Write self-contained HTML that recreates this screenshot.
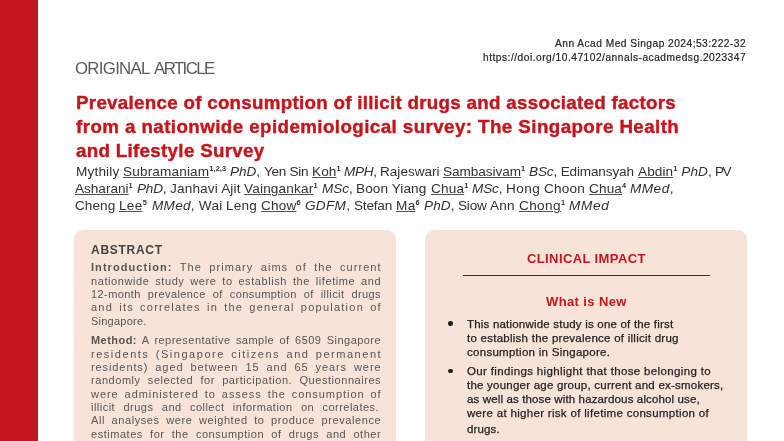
<!DOCTYPE html>
<html lang="en"><head><meta charset="utf-8"><title>Prevalence of consumption of illicit drugs</title>
<style>
html,body{margin:0;padding:0;background:#fff;}
body{width:784px;height:441px;position:relative;overflow:hidden;font-family:"Liberation Sans",sans-serif;}
.bar{position:absolute;left:0;top:0;width:38px;height:441px;background:#c4161c;}
.box{position:absolute;background:#f8e3d9;border-radius:9.5px 9.5px 0 0;}
.l{will-change:transform;position:absolute;white-space:nowrap;line-height:20px;height:20px;margin:0;}
.l sup{font-size:54%;line-height:0;vertical-align:baseline;position:relative;top:-0.7em;font-weight:bold;}
.l u{text-decoration-thickness:0.7px;text-underline-offset:0.9px;text-decoration-color:#555;}
.rule{position:absolute;left:462.7px;top:274.8px;width:247.7px;height:1px;background:#333;}
.dot{position:absolute;width:4.4px;height:4.4px;border-radius:50%;background:#222;}
</style></head><body>
<div class="bar"></div>
<div class="box" style="left:74.2px;top:230px;width:322px;height:215px"></div>
<div class="box" style="left:425px;top:230px;width:321.6px;height:215px"></div>
<div class="rule"></div>
<div class="dot" style="left:448.2px;top:321.3px"></div>
<div class="dot" style="left:448.2px;top:368.6px"></div>
<div class="l" id="h1" style="left:555.0px;top:34px;font-size:10.2px;color:#262626;-webkit-text-stroke:0.2px #262626;letter-spacing:0.472px;">Ann Acad Med Singap 2024;53:222-32</div>
<div class="l" id="h2" style="left:483.0px;top:48px;font-size:10.2px;color:#262626;-webkit-text-stroke:0.2px #262626;letter-spacing:0.503px;">https://doi.org/10.47102/annals-acadmedsg.2023347</div>
<div class="l" id="oa" style="left:75.0px;top:59px;font-size:16.8px;color:#5a5a5a;letter-spacing:-0.686px;">ORIGINAL</div>
<div class="l" id="oa2" style="left:154.3px;top:59px;font-size:16.8px;color:#5a5a5a;letter-spacing:-1.546px;">ARTICLE</div>
<div class="l" id="t1" style="left:75.8px;top:93px;font-size:18.2px;color:#c4161c;font-weight:bold;-webkit-text-stroke:0.4px #c4161c;transform:scaleX(1.03);transform-origin:0 0;letter-spacing:0.287px;">Prevalence of consumption of illicit drugs and associated factors</div>
<div class="l" id="t2" style="left:75.8px;top:117px;font-size:18.2px;color:#c4161c;font-weight:bold;-webkit-text-stroke:0.4px #c4161c;transform:scaleX(1.03);transform-origin:0 0;letter-spacing:0.416px;">from a nationwide epidemiological survey: The Singapore Health</div>
<div class="l" id="t3" style="left:75.8px;top:141px;font-size:18.2px;color:#c4161c;font-weight:bold;-webkit-text-stroke:0.4px #c4161c;transform:scaleX(1.03);transform-origin:0 0;letter-spacing:0.306px;">and Lifestyle Survey</div>
<div class="l" id="a1_0" style="left:75.6px;top:162px;font-size:13.6px;color:#333;white-space:pre;letter-spacing:0.165px;">Mythily </div>
<div class="l" id="a1_1" style="left:123.0px;top:162px;font-size:13.6px;color:#333;white-space:pre;letter-spacing:0.146px;"><u>Subramaniam</u><sup>1,2,3</sup> </div>
<div class="l" id="a1_2" style="left:230.2px;top:162px;font-size:13.6px;color:#333;white-space:pre;letter-spacing:-0.083px;"><i>PhD</i>, </div>
<div class="l" id="a1_3" style="left:263.8px;top:162px;font-size:13.6px;color:#333;white-space:pre;letter-spacing:-0.305px;">Yen Sin </div>
<div class="l" id="a1_4" style="left:311.5px;top:162px;font-size:13.6px;color:#333;white-space:pre;letter-spacing:0.091px;"><u>Koh</u><sup>1</sup> </div>
<div class="l" id="a1_5" style="left:344.0px;top:162px;font-size:13.6px;color:#333;white-space:pre;letter-spacing:-0.356px;"><i>MPH</i>, </div>
<div class="l" id="a1_6" style="left:380.0px;top:162px;font-size:13.6px;color:#333;white-space:pre;letter-spacing:-0.007px;">Rajeswari </div>
<div class="l" id="a1_7" style="left:443.4px;top:162px;font-size:13.6px;color:#333;white-space:pre;letter-spacing:-0.053px;"><u>Sambasivam</u><sup>1</sup> </div>
<div class="l" id="a1_8" style="left:529.2px;top:162px;font-size:13.6px;color:#333;white-space:pre;letter-spacing:-0.167px;"><i>BSc</i>, Edimansyah </div>
<div class="l" id="a1_9" style="left:637.6px;top:162px;font-size:13.6px;color:#333;white-space:pre;letter-spacing:0.095px;"><u>Abdin</u><sup>1</sup> <i>PhD</i>, </div>
<div class="l" id="a1_10" style="left:715.4px;top:162px;font-size:13.6px;color:#333;white-space:pre;letter-spacing:-1.541px;">PV</div>
<div class="l" id="a2_0" style="left:75.3px;top:179px;font-size:13.6px;color:#333;white-space:pre;letter-spacing:-0.022px;"><u>Asharani</u><sup>1</sup> </div>
<div class="l" id="a2_1" style="left:136.6px;top:179px;font-size:13.6px;color:#333;white-space:pre;letter-spacing:-0.203px;"><i>PhD</i>, </div>
<div class="l" id="a2_2" style="left:169.6px;top:179px;font-size:13.6px;color:#333;white-space:pre;letter-spacing:0.158px;">Janhavi Ajit </div>
<div class="l" id="a2_3" style="left:244.2px;top:179px;font-size:13.6px;color:#333;white-space:pre;letter-spacing:0.165px;"><u>Vaingankar</u><sup>1</sup> </div>
<div class="l" id="a2_4" style="left:321.8px;top:179px;font-size:13.6px;color:#333;white-space:pre;letter-spacing:-0.050px;"><i>MSc</i>, </div>
<div class="l" id="a2_5" style="left:356.3px;top:179px;font-size:13.6px;color:#333;white-space:pre;letter-spacing:0.079px;">Boon Yiang </div>
<div class="l" id="a2_6" style="left:430.5px;top:179px;font-size:13.6px;color:#333;white-space:pre;letter-spacing:0.157px;"><u>Chua</u><sup>1</sup> </div>
<div class="l" id="a2_7" style="left:471.8px;top:179px;font-size:13.6px;color:#333;white-space:pre;letter-spacing:-0.190px;"><i>MSc</i>, </div>
<div class="l" id="a2_8" style="left:505.6px;top:179px;font-size:13.6px;color:#333;white-space:pre;letter-spacing:0.444px;">Hong </div>
<div class="l" id="a2_9" style="left:544.1px;top:179px;font-size:13.6px;color:#333;white-space:pre;letter-spacing:0.176px;">Choon </div>
<div class="l" id="a2_10" style="left:589.0px;top:179px;font-size:13.6px;color:#333;white-space:pre;letter-spacing:0.140px;"><u>Chua</u><sup>4</sup> </div>
<div class="l" id="a2_11" style="left:630.2px;top:179px;font-size:13.6px;color:#333;white-space:pre;letter-spacing:0.484px;"><i>MMed</i>,</div>
<div class="l" id="a3_0" style="left:75.3px;top:196px;font-size:13.6px;color:#333;white-space:pre;letter-spacing:0.043px;">Cheng </div>
<div class="l" id="a3_1" style="left:119.4px;top:196px;font-size:13.6px;color:#333;white-space:pre;letter-spacing:0.311px;"><u>Lee</u><sup>5</sup> </div>
<div class="l" id="a3_2" style="left:151.5px;top:196px;font-size:13.6px;color:#333;white-space:pre;letter-spacing:0.257px;"><i>MMed</i>, Wai </div>
<div class="l" id="a3_3" style="left:226.1px;top:196px;font-size:13.6px;color:#333;white-space:pre;letter-spacing:0.174px;">Leng </div>
<div class="l" id="a3_4" style="left:261.0px;top:196px;font-size:13.6px;color:#333;white-space:pre;letter-spacing:0.163px;"><u>Chow</u><sup>6</sup> </div>
<div class="l" id="a3_5" style="left:304.6px;top:196px;font-size:13.6px;color:#333;white-space:pre;letter-spacing:0.301px;"><i>GDFM</i>, </div>
<div class="l" id="a3_6" style="left:354.0px;top:196px;font-size:13.6px;color:#333;white-space:pre;letter-spacing:-0.211px;">Stefan </div>
<div class="l" id="a3_7" style="left:395.6px;top:196px;font-size:13.6px;color:#333;white-space:pre;letter-spacing:0.312px;"><u>Ma</u><sup>6</sup> </div>
<div class="l" id="a3_8" style="left:423.6px;top:196px;font-size:13.6px;color:#333;white-space:pre;letter-spacing:0.077px;"><i>PhD</i>, </div>
<div class="l" id="a3_9" style="left:458.0px;top:196px;font-size:13.6px;color:#333;white-space:pre;letter-spacing:-0.210px;">Siow </div>
<div class="l" id="a3_10" style="left:490.2px;top:196px;font-size:13.6px;color:#333;white-space:pre;letter-spacing:0.183px;">Ann </div>
<div class="l" id="a3_11" style="left:518.9px;top:196px;font-size:13.6px;color:#333;white-space:pre;letter-spacing:0.368px;"><u>Chong</u><sup>1</sup> </div>
<div class="l" id="a3_12" style="left:569.4px;top:196px;font-size:13.6px;color:#333;white-space:pre;letter-spacing:0.706px;"><i>MMed</i></div>
<div class="l" id="ab" style="left:91.0px;top:240px;font-size:12px;color:#444;font-weight:bold;letter-spacing:0.714px;">ABSTRACT</div>
<div class="l" id="i0" style="left:91.0px;top:257px;font-size:11px;color:#555;letter-spacing:1.060px;word-spacing:3.241px;"><b>Introduction:</b> The primary aims of the current</div>
<div class="l" id="i1" style="left:91.0px;top:271px;font-size:11px;color:#555;letter-spacing:0.583px;word-spacing:2.176px;">nationwide study were to establish the lifetime and</div>
<div class="l" id="i2" style="left:91.0px;top:284px;font-size:11px;color:#555;letter-spacing:0.420px;word-spacing:3.493px;">12-month prevalence of consumption of illicit drugs</div>
<div class="l" id="i3" style="left:91.0px;top:297px;font-size:11px;color:#555;letter-spacing:1.240px;word-spacing:1.859px;">and its correlates in the general population of</div>
<div class="l" id="i4" style="left:91.0px;top:311px;font-size:11px;color:#555;letter-spacing:0.242px;">Singapore.</div>
<div class="l" id="m0" style="left:91.0px;top:330px;font-size:11px;color:#555;letter-spacing:0.453px;word-spacing:1.942px;"><b>Method:</b> A representative sample of 6509 Singapore</div>
<div class="l" id="m1" style="left:91.0px;top:344px;font-size:11px;color:#555;letter-spacing:1.530px;word-spacing:1.761px;">residents (Singapore citizens and permanent</div>
<div class="l" id="m2" style="left:91.0px;top:357px;font-size:11px;color:#555;letter-spacing:0.903px;word-spacing:3.061px;">residents) aged between 15 and 65 years were</div>
<div class="l" id="m3" style="left:91.0px;top:370px;font-size:11px;color:#555;letter-spacing:0.550px;word-spacing:3.615px;">randomly selected for participation. Questionnaires</div>
<div class="l" id="m4" style="left:91.0px;top:384px;font-size:11px;color:#555;letter-spacing:0.940px;word-spacing:1.982px;">were administered to assess the consumption of</div>
<div class="l" id="m5" style="left:91.0px;top:397px;font-size:11px;color:#555;letter-spacing:0.473px;word-spacing:4.881px;">illicit drugs and collect information on correlates.</div>
<div class="l" id="m6" style="left:91.0px;top:410px;font-size:11px;color:#555;letter-spacing:0.587px;word-spacing:2.905px;">All analyses were weighted to produce prevalence</div>
<div class="l" id="m7" style="left:91.0px;top:424px;font-size:11px;color:#555;letter-spacing:0.537px;word-spacing:3.614px;">estimates for the consumption of drugs and other</div>
<div class="l" id="ci" style="left:526.7px;top:249px;font-size:13px;color:#c4161c;font-weight:bold;letter-spacing:0.392px;">CLINICAL IMPACT</div>
<div class="l" id="wn" style="left:546.3px;top:292px;font-size:13px;color:#c4161c;font-weight:bold;letter-spacing:0.382px;">What is New</div>
<div class="l" id="c0" style="left:466.7px;top:314px;font-size:11.5px;color:#222;-webkit-text-stroke:0.25px #222;letter-spacing:0.201px;">This nationwide study is one of the first</div>
<div class="l" id="c1" style="left:466.7px;top:328px;font-size:11.5px;color:#222;-webkit-text-stroke:0.25px #222;letter-spacing:0.256px;">to establish the prevalence of illicit drug</div>
<div class="l" id="c2" style="left:466.7px;top:342px;font-size:11.5px;color:#222;-webkit-text-stroke:0.25px #222;letter-spacing:0.280px;">consumption in Singapore.</div>
<div class="l" id="c3" style="left:466.7px;top:361px;font-size:11.5px;color:#222;-webkit-text-stroke:0.25px #222;letter-spacing:0.358px;">Our findings highlight that those belonging to</div>
<div class="l" id="c4" style="left:466.7px;top:375px;font-size:11.5px;color:#222;-webkit-text-stroke:0.25px #222;letter-spacing:0.226px;">the younger age group, current and ex-smokers,</div>
<div class="l" id="c5" style="left:466.7px;top:389px;font-size:11.5px;color:#222;-webkit-text-stroke:0.25px #222;letter-spacing:0.134px;">as well as those with hazardous alcohol use,</div>
<div class="l" id="c6" style="left:466.7px;top:403px;font-size:11.5px;color:#222;-webkit-text-stroke:0.25px #222;letter-spacing:0.315px;">were at higher risk of lifetime consumption of</div>
<div class="l" id="c7" style="left:466.7px;top:419px;font-size:11.5px;color:#222;-webkit-text-stroke:0.25px #222;letter-spacing:0.146px;">drugs.</div>
</body></html>
